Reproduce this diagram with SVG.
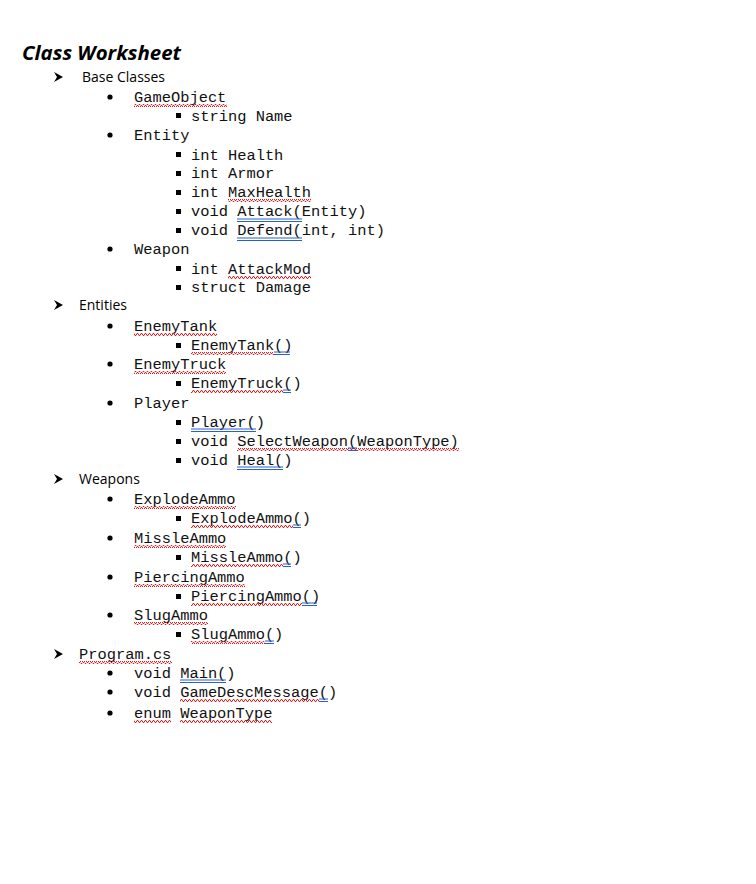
<svg xmlns="http://www.w3.org/2000/svg" width="756" height="884" viewBox="0 0 756 884">
<defs>
<pattern id="wave" width="4" height="3" patternUnits="userSpaceOnUse"><path d="M0,2.5 L1,0.5 L2,0.5 L3,2.5 L4,2.5" fill="none" stroke="#e01b1b" stroke-width="1"/></pattern>
<path id="arr" d="M0,-5 L9,0 L0,5 L3,0 Z"/>
</defs>
<style>
.m{font-family:"Liberation Mono","Courier New",monospace;font-size:15.4px;fill:#111}
.s{font-family:"Open Sans","Liberation Sans",sans-serif;font-size:14px;fill:#000}
.t{font-family:"Open Sans","Liberation Sans",sans-serif;font-size:20px;font-weight:bold;font-style:italic;fill:#000}
.r{fill:url(#wave)}
.b{stroke:#2a5fd0;stroke-width:1.2;fill:none}
</style>
<rect width="756" height="884" fill="#fff"/>
<text class="t" x="22" y="60" textLength="159" lengthAdjust="spacingAndGlyphs">Class Worksheet</text>
<g id="headings">
<use href="#arr" x="54" y="77"/><text class="s" x="82" y="82">Base Classes</text>
<use href="#arr" x="54" y="305"/><text class="s" x="79" y="310">Entities</text>
<use href="#arr" x="54" y="479"/><text class="s" x="79" y="484">Weapons</text>
<use href="#arr" x="54" y="654"/><text class="m" x="79" y="659">Program.cs</text>
</g>
<g id="bullets" fill="#000">
<circle cx="110" cy="97" r="2.6"/><circle cx="110" cy="135" r="2.6"/><circle cx="110" cy="249" r="2.6"/>
<circle cx="110" cy="326" r="2.6"/><circle cx="110" cy="364" r="2.6"/><circle cx="110" cy="403" r="2.6"/>
<circle cx="110" cy="499" r="2.6"/><circle cx="110" cy="538" r="2.6"/><circle cx="110" cy="577" r="2.6"/><circle cx="110" cy="615" r="2.6"/>
<circle cx="110" cy="673" r="2.6"/><circle cx="110" cy="692" r="2.6"/><circle cx="110" cy="713" r="2.6"/>
<rect x="176" y="113" width="5" height="5"/><rect x="176" y="152" width="5" height="5"/><rect x="176" y="171" width="5" height="5"/>
<rect x="176" y="190" width="5" height="5"/><rect x="176" y="209" width="5" height="5"/><rect x="176" y="228" width="5" height="5"/>
<rect x="176" y="266" width="5" height="5"/><rect x="176" y="285" width="5" height="5"/><rect x="176" y="343" width="5" height="5"/>
<rect x="176" y="381" width="5" height="5"/><rect x="176" y="420" width="5" height="5"/><rect x="176" y="439" width="5" height="5"/>
<rect x="176" y="458" width="5" height="5"/><rect x="176" y="516" width="5" height="5"/><rect x="176" y="555" width="5" height="5"/>
<rect x="176" y="594" width="5" height="5"/><rect x="176" y="632" width="5" height="5"/>
</g>
<g id="texts">
<text class="m" x="134" y="102">GameObject</text>
<text class="m" x="191" y="121">string Name</text>
<text class="m" x="134" y="140">Entity</text>
<text class="m" x="191" y="160">int Health</text>
<text class="m" x="191" y="178">int Armor</text>
<text class="m" x="191" y="197">int MaxHealth</text>
<text class="m" x="191" y="216">void Attack(Entity)</text>
<text class="m" x="191" y="235">void Defend(int, int)</text>
<text class="m" x="134" y="254">Weapon</text>
<text class="m" x="191" y="274">int AttackMod</text>
<text class="m" x="191" y="292">struct Damage</text>
<text class="m" x="134" y="331">EnemyTank</text>
<text class="m" x="191" y="350">EnemyTank()</text>
<text class="m" x="134" y="369">EnemyTruck</text>
<text class="m" x="191" y="388">EnemyTruck()</text>
<text class="m" x="134" y="408">Player</text>
<text class="m" x="191" y="427">Player()</text>
<text class="m" x="191" y="446">void SelectWeapon(WeaponType)</text>
<text class="m" x="191" y="465">void Heal()</text>
<text class="m" x="134" y="504">ExplodeAmmo</text>
<text class="m" x="191" y="523">ExplodeAmmo()</text>
<text class="m" x="134" y="543">MissleAmmo</text>
<text class="m" x="191" y="562">MissleAmmo()</text>
<text class="m" x="134" y="582">PiercingAmmo</text>
<text class="m" x="191" y="601">PiercingAmmo()</text>
<text class="m" x="134" y="620">SlugAmmo</text>
<text class="m" x="191" y="639">SlugAmmo()</text>
<text class="m" x="134" y="678">void Main()</text>
<text class="m" x="134" y="697">void GameDescMessage()</text>
<text class="m" x="134" y="718">enum WeaponType</text>
</g>
<g id="marks">
<rect class="r" x="134" y="104" width="93" height="3"/>
<rect class="r" x="228" y="199" width="83" height="3"/>
<path class="b" d="M237,219h65M237,221.5h65M237,238h65M237,240.5h65"/>
<rect class="r" x="228" y="276" width="83" height="3"/>
<rect class="r" x="134" y="333" width="83" height="3"/>
<rect class="r" x="191" y="352" width="83" height="3"/>
<path class="b" d="M274,352h16M274,354.5h16"/>
<rect class="r" x="134" y="371" width="92" height="3"/>
<rect class="r" x="191" y="390" width="92" height="3"/>
<path class="b" d="M283,390h8M283,392.5h8"/>
<path class="b" d="M191,429h65M191,431.5h65"/>
<rect class="r" x="237" y="448" width="222" height="3"/>
<path class="b" d="M348,448h9M348,450.5h9"/>
<path class="b" d="M237,467h46M237,469.5h46"/>
<rect class="r" x="134" y="506" width="102" height="3"/>
<rect class="r" x="191" y="525" width="102" height="3"/>
<path class="b" d="M293,525h8M293,527.5h8"/>
<rect class="r" x="134" y="545" width="92" height="3"/>
<rect class="r" x="191" y="564" width="92" height="3"/>
<path class="b" d="M283,564h8M283,566.5h8"/>
<rect class="r" x="134" y="584" width="111" height="3"/>
<rect class="r" x="191" y="603" width="111" height="3"/>
<path class="b" d="M302,603h15M302,605.5h15"/>
<rect class="r" x="134" y="622" width="74" height="3"/>
<rect class="r" x="191" y="641" width="74" height="3"/>
<path class="b" d="M265,641h9M265,643.5h9"/>
<rect class="r" x="79" y="661" width="93" height="3"/>
<path class="b" d="M180,680h46M180,682.5h46"/>
<rect class="r" x="180" y="699" width="139" height="3"/>
<path class="b" d="M319,699h9M319,701.5h9"/>
<rect class="r" x="134" y="720" width="37" height="3"/>
<rect class="r" x="180" y="720" width="92" height="3"/>
</g>
</svg>
